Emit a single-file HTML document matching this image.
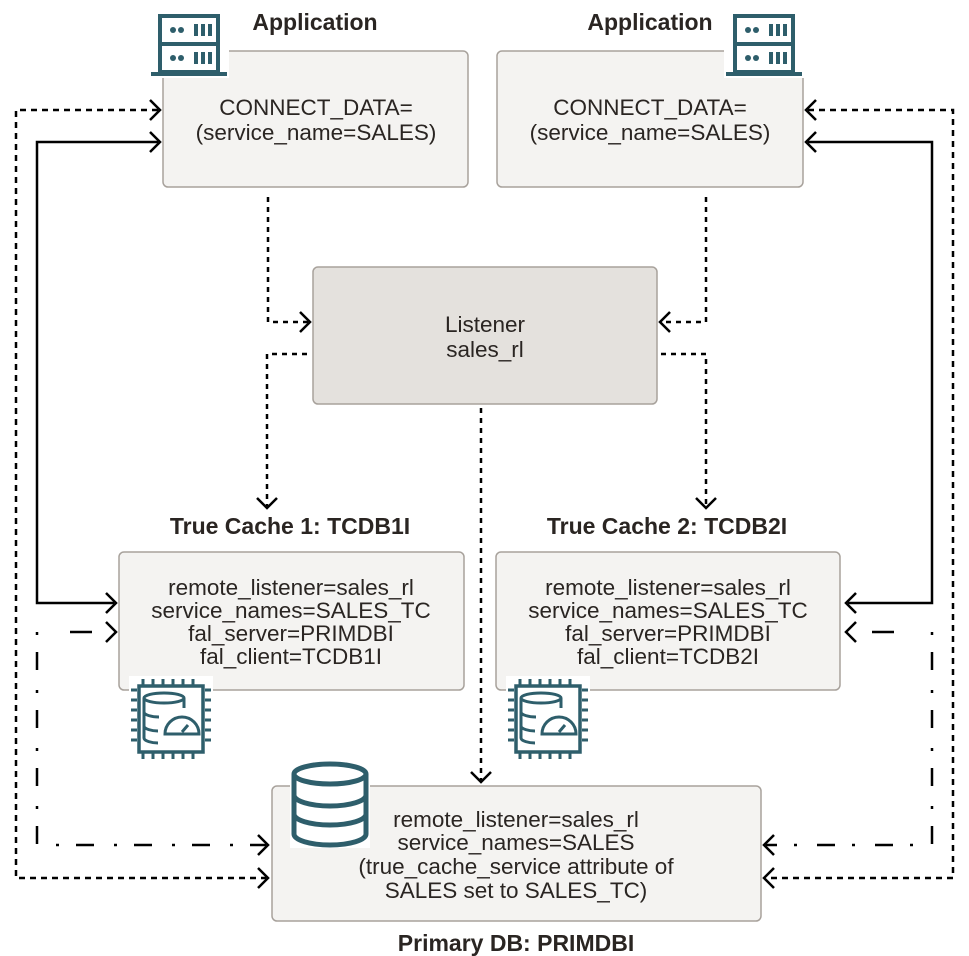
<!DOCTYPE html>
<html><head><meta charset="utf-8"><style>
html,body{margin:0;padding:0;background:#fff}
svg{display:block}
text{font-family:"Liberation Sans",sans-serif;fill:#2a2522}
.b{font-weight:bold;font-size:23px}
.t{font-size:22.5px}
</style></head><body>
<svg width="969" height="956" viewBox="0 0 969 956" xmlns="http://www.w3.org/2000/svg">
<defs>
<g id="srv" fill="none" stroke="#2e5e6b" stroke-width="4">
<rect x="-2" y="-2" width="80" height="66" fill="#fff" stroke="none"/>
<rect x="9" y="2" width="58" height="28"/><rect x="9" y="30" width="58" height="28"/>
<line x1="0" y1="60" x2="76" y2="60"/>
<g stroke="none" fill="#2e5e6b">
<circle cx="22" cy="16" r="3"/><circle cx="30" cy="16" r="3"/>
<circle cx="22" cy="44" r="3"/><circle cx="30" cy="44" r="3"/>
<rect x="43" y="10" width="4" height="12"/><rect x="50" y="10" width="4" height="12"/><rect x="57" y="10" width="4" height="12"/>
<rect x="43" y="38" width="4" height="12"/><rect x="50" y="38" width="4" height="12"/><rect x="57" y="38" width="4" height="12"/>
</g></g>
<g id="chip" fill="none" stroke="#2e5e6b">
<rect x="0" y="0" width="84" height="86" fill="#fff" stroke="none"/>
<rect x="10" y="10" width="64" height="66" stroke-width="3.5"/>
<path d="M14 3v6M24 3v6M34 3v6M44 3v6M54 3v6M64 3v6M14 77v6M24 77v6M34 77v6M44 77v6M54 77v6M64 77v6M2 14h6M2 24h6M2 34h6M2 44h6M2 54h6M2 64h6M76 14h6M76 24h6M76 34h6M76 44h6M76 54h6M76 64h6" stroke-width="3"/>
<ellipse cx="35" cy="22" rx="20" ry="5" stroke-width="3"/>
<path d="M15 22v40c0 3 8 5 14 5M55 22v10M15 36c0 3 8 5 15 5M15 50c0 3 8 5 14 5" stroke-width="3"/>
<path d="M36 58a17 17 0 0 1 34 0z" stroke-width="3"/>
<line x1="53" y1="56" x2="59" y2="49" stroke-width="3"/>
</g>
<g id="ar"><path d="M-10 -10L0 0L-10 10" fill="none" stroke="#000" stroke-width="2.5"/></g>
</defs>

<g stroke="#a8a29c" stroke-width="1.5">
<rect x="163" y="51" width="305" height="136" rx="5" fill="#f4f3f1"/>
<rect x="497" y="51" width="306" height="136" rx="5" fill="#f4f3f1"/>
<rect x="313" y="267" width="344" height="137" rx="5" fill="#e4e1dd"/>
<rect x="119" y="552" width="345" height="138" rx="5" fill="#f4f3f1"/>
<rect x="496" y="552" width="344" height="138" rx="5" fill="#f4f3f1"/>
<rect x="272" y="786" width="489" height="135" rx="5" fill="#f4f3f1"/>
</g>

<g fill="none" stroke="#000" stroke-width="2.5">
<path d="M158 110H16V878H266" stroke-dasharray="6 5"/>
<path d="M158 142H37V603H114"/>
<path d="M70 632H92"/>
<path d="M37 632V845H266" stroke-dasharray="3 17 18 20"/>
<path d="M808 110H953V878H766" stroke-dasharray="6 5"/>
<path d="M808 142H932V603H848"/>
<path d="M872 632H894"/>
<path d="M932 632V845H766" stroke-dasharray="3 17 18 20"/>
<path d="M268 197V322H308" stroke-dasharray="5 5"/>
<path d="M706 197V322H662" stroke-dasharray="5 5"/>
<path d="M307 354H267V506" stroke-dasharray="5 5"/>
<path d="M661 354H706V506" stroke-dasharray="5 5"/>
<path d="M481 408V780" stroke-dasharray="5 5"/>
</g>
<use href="#ar" transform="translate(160,110)"/>
<use href="#ar" transform="translate(160,142)"/>
<use href="#ar" transform="translate(116,603)"/>
<use href="#ar" transform="translate(116,632)"/>
<use href="#ar" transform="translate(268,845)"/>
<use href="#ar" transform="translate(268,878)"/>
<use href="#ar" transform="translate(806,110) scale(-1,1)"/>
<use href="#ar" transform="translate(806,142) scale(-1,1)"/>
<use href="#ar" transform="translate(846,603) scale(-1,1)"/>
<use href="#ar" transform="translate(846,632) scale(-1,1)"/>
<use href="#ar" transform="translate(764,845) scale(-1,1)"/>
<use href="#ar" transform="translate(764,878) scale(-1,1)"/>
<use href="#ar" transform="translate(310,322)"/>
<use href="#ar" transform="translate(660,322) scale(-1,1)"/>
<use href="#ar" transform="translate(267,508) rotate(90)"/>
<use href="#ar" transform="translate(706,508) rotate(90)"/>
<use href="#ar" transform="translate(481,782) rotate(90)"/>

<use href="#srv" transform="translate(151,14)"/>
<use href="#srv" transform="translate(726,14)"/>
<use href="#chip" transform="translate(129,676)"/>
<use href="#chip" transform="translate(506,676)"/>
<g fill="#fff" stroke="#2e5e6b" stroke-width="5">
<rect x="290" y="762" width="80" height="86" fill="#fff" stroke="none"/>
<path d="M294 774v60c0 6 16 11 36 11s36-5 36-11v-60"/>
<ellipse cx="330" cy="774" rx="36" ry="10"/>
<path d="M294 795c0 6 16 11 36 11s36-5 36-11M294 814c0 6 16 11 36 11s36-5 36-11" fill="none"/>
</g>

<g text-anchor="middle">
<text class="b" x="315" y="30">Application</text>
<text class="b" x="650" y="30">Application</text>
<text class="t" x="316" y="115">CONNECT_DATA=</text>
<text class="t" x="316" y="140">(service_name=SALES)</text>
<text class="t" x="650" y="115">CONNECT_DATA=</text>
<text class="t" x="650" y="140">(service_name=SALES)</text>
<text class="t" x="485" y="332">Listener</text>
<text class="t" x="485" y="357">sales_rl</text>
<text class="b" x="290" y="534">True Cache 1: TCDB1I</text>
<text class="b" x="667" y="534">True Cache 2: TCDB2I</text>
<text class="t" x="291" y="595">remote_listener=sales_rl</text>
<text class="t" x="291" y="618">service_names=SALES_TC</text>
<text class="t" x="291" y="641">fal_server=PRIMDBI</text>
<text class="t" x="291" y="664">fal_client=TCDB1I</text>
<text class="t" x="668" y="595">remote_listener=sales_rl</text>
<text class="t" x="668" y="618">service_names=SALES_TC</text>
<text class="t" x="668" y="641">fal_server=PRIMDBI</text>
<text class="t" x="668" y="664">fal_client=TCDB2I</text>
<text class="t" x="516" y="827">remote_listener=sales_rl</text>
<text class="t" x="516" y="850">service_names=SALES</text>
<text class="t" x="516" y="874">(true_cache_service attribute of</text>
<text class="t" x="516" y="898">SALES set to SALES_TC)</text>
<text class="b" x="516" y="951">Primary DB: PRIMDBI</text>
</g>
</svg>
</body></html>
